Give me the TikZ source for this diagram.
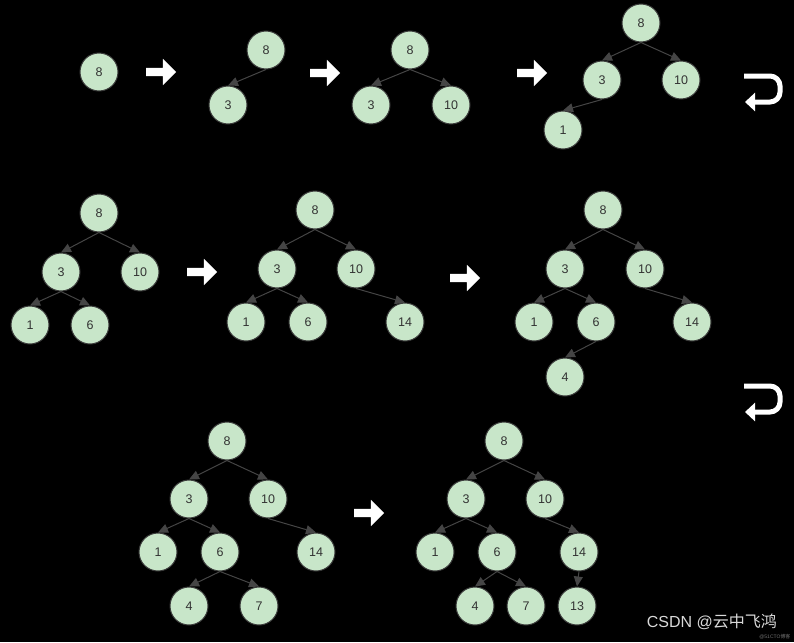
\documentclass[tikz,border=0pt]{standalone}
\usepackage{fontspec}
\setmainfont{Liberation Sans}
\newfontfamily\cjk{Noto Sans CJK SC}
\usetikzlibrary{arrows.meta,shapes.arrows}
\definecolor{nodegreen}{HTML}{C8E6C9}
\definecolor{nodeline}{HTML}{3A3A3A}
\definecolor{edgegray}{HTML}{454545}
\begin{document}
\begin{tikzpicture}[
        x=1pt, y=-1pt,
        vnode/.style={circle, draw=nodeline, line width=1pt, fill=nodegreen, text=black!80,
            minimum size=38pt, inner sep=0pt, font=\fontsize{12.5}{14}\selectfont},
        edge/.style={-{Triangle[length=10pt,width=9pt]}, edgegray, line width=1pt},
        nextstep/.style={single arrow, fill=white, minimum height=30pt, inner sep=4pt,
            single arrow head extend=9pt},
        turn/.style={white, line width=5pt, rounded corners=10pt, -{Triangle[length=10pt,width=18pt]}}
    ]
        \fill[black] (0,0) rectangle (794,642);
        \useasboundingbox (0,0) rectangle (794,642);

        % Step 1: 8
        \node[vnode] (a8) at (99,72) {8};
        \node[nextstep] (s1) at (159,72) {};

        % Step 2: 3
        \node[vnode] (b8) at (266,50) {8};
        \node[vnode] (b3) at (228,105) {3};
        \draw[edge] (b8.south) -- (b3.north);
        \node[nextstep] (s2) at (323,73) {};

        % Step 3: 10
        \node[vnode] (c8) at (410,50) {8};
        \node[vnode] (c3) at (371,105) {3};
        \node[vnode] (c10) at (451,105) {10};
        \foreach \p/\c in {c8/c3, c8/c10}
            \draw[edge] (\p.south) -- (\c.north);
        \node[nextstep] (s3) at (530,73) {};

        % Step 4: 1
        \node[vnode] (d8) at (641,23) {8};
        \node[vnode] (d3) at (602,80) {3};
        \node[vnode] (d10) at (681,80) {10};
        \node[vnode] (d1) at (563,130) {1};
        \foreach \p/\c in {d8/d3, d8/d10, d3/d1}
            \draw[edge] (\p.south) -- (\c.north);
        \coordinate (u1) at (744,76);
        \coordinate (u1end) at (745,102);
        \draw[turn] (u1) -- (780,76) -- (780,102) -- (u1end);

        % Step 5: 6
        \node[vnode] (e8) at (99,213) {8};
        \node[vnode] (e3) at (61,272) {3};
        \node[vnode] (e10) at (140,272) {10};
        \node[vnode] (e1) at (30,325) {1};
        \node[vnode] (e6) at (90,325) {6};
        \foreach \p/\c in {e8/e3, e8/e10, e3/e1, e3/e6}
            \draw[edge] (\p.south) -- (\c.north);
        \node[nextstep] (s4) at (200,272) {};

        % Step 6: 14
        \node[vnode] (f8) at (315,210) {8};
        \node[vnode] (f3) at (277,269) {3};
        \node[vnode] (f10) at (356,269) {10};
        \node[vnode] (f1) at (246,322) {1};
        \node[vnode] (f6) at (308,322) {6};
        \node[vnode] (f14) at (405,322) {14};
        \foreach \p/\c in {f8/f3, f8/f10, f3/f1, f3/f6, f10/f14}
            \draw[edge] (\p.south) -- (\c.north);
        \node[nextstep] (s5) at (463,278) {};

        % Step 7: 4
        \node[vnode] (g8) at (603,210) {8};
        \node[vnode] (g3) at (565,269) {3};
        \node[vnode] (g10) at (645,269) {10};
        \node[vnode] (g1) at (534,322) {1};
        \node[vnode] (g6) at (596,322) {6};
        \node[vnode] (g14) at (692,322) {14};
        \node[vnode] (g4) at (565,377) {4};
        \foreach \p/\c in {g8/g3, g8/g10, g3/g1, g3/g6, g10/g14, g6/g4}
            \draw[edge] (\p.south) -- (\c.north);
        \coordinate (u2) at (744,386);
        \coordinate (u2end) at (745,412);
        \draw[turn] (u2) -- (780,386) -- (780,412) -- (u2end);

        % Step 8: 7
        \node[vnode] (h8) at (227,441) {8};
        \node[vnode] (h3) at (189,499) {3};
        \node[vnode] (h10) at (268,499) {10};
        \node[vnode] (h1) at (158,552) {1};
        \node[vnode] (h6) at (220,552) {6};
        \node[vnode] (h14) at (316,552) {14};
        \node[vnode] (h4) at (189,606) {4};
        \node[vnode] (h7) at (259,606) {7};
        \foreach \p/\c in {h8/h3, h8/h10, h3/h1, h3/h6, h10/h14, h6/h4, h6/h7}
            \draw[edge] (\p.south) -- (\c.north);
        \node[nextstep] (s6) at (367,513) {};

        % Step 9: 13
        \node[vnode] (i8) at (504,441) {8};
        \node[vnode] (i3) at (466,499) {3};
        \node[vnode] (i10) at (545,499) {10};
        \node[vnode] (i1) at (435,552) {1};
        \node[vnode] (i6) at (497,552) {6};
        \node[vnode] (i14) at (579,552) {14};
        \node[vnode] (i4) at (475,606) {4};
        \node[vnode] (i7) at (526,606) {7};
        \node[vnode] (i13) at (577,606) {13};
        \foreach \p/\c in {i8/i3, i8/i10, i3/i1, i3/i6, i10/i14, i6/i4, i6/i7, i14/i13}
            \draw[edge] (\p.south) -- (\c.north);

        % Watermark
        \node[text=black!15, font=\fontsize{16}{18}\selectfont, anchor=east, inner sep=0pt] (mark) at (777,622) {CSDN @{\cjk 云中飞鸿}};
        \node[text=black!55, font=\fontsize{5}{6}\selectfont, anchor=east] (mark2) at (794,637) {@51CTO{\cjk 博客}};
    \end{tikzpicture}
\end{document}
